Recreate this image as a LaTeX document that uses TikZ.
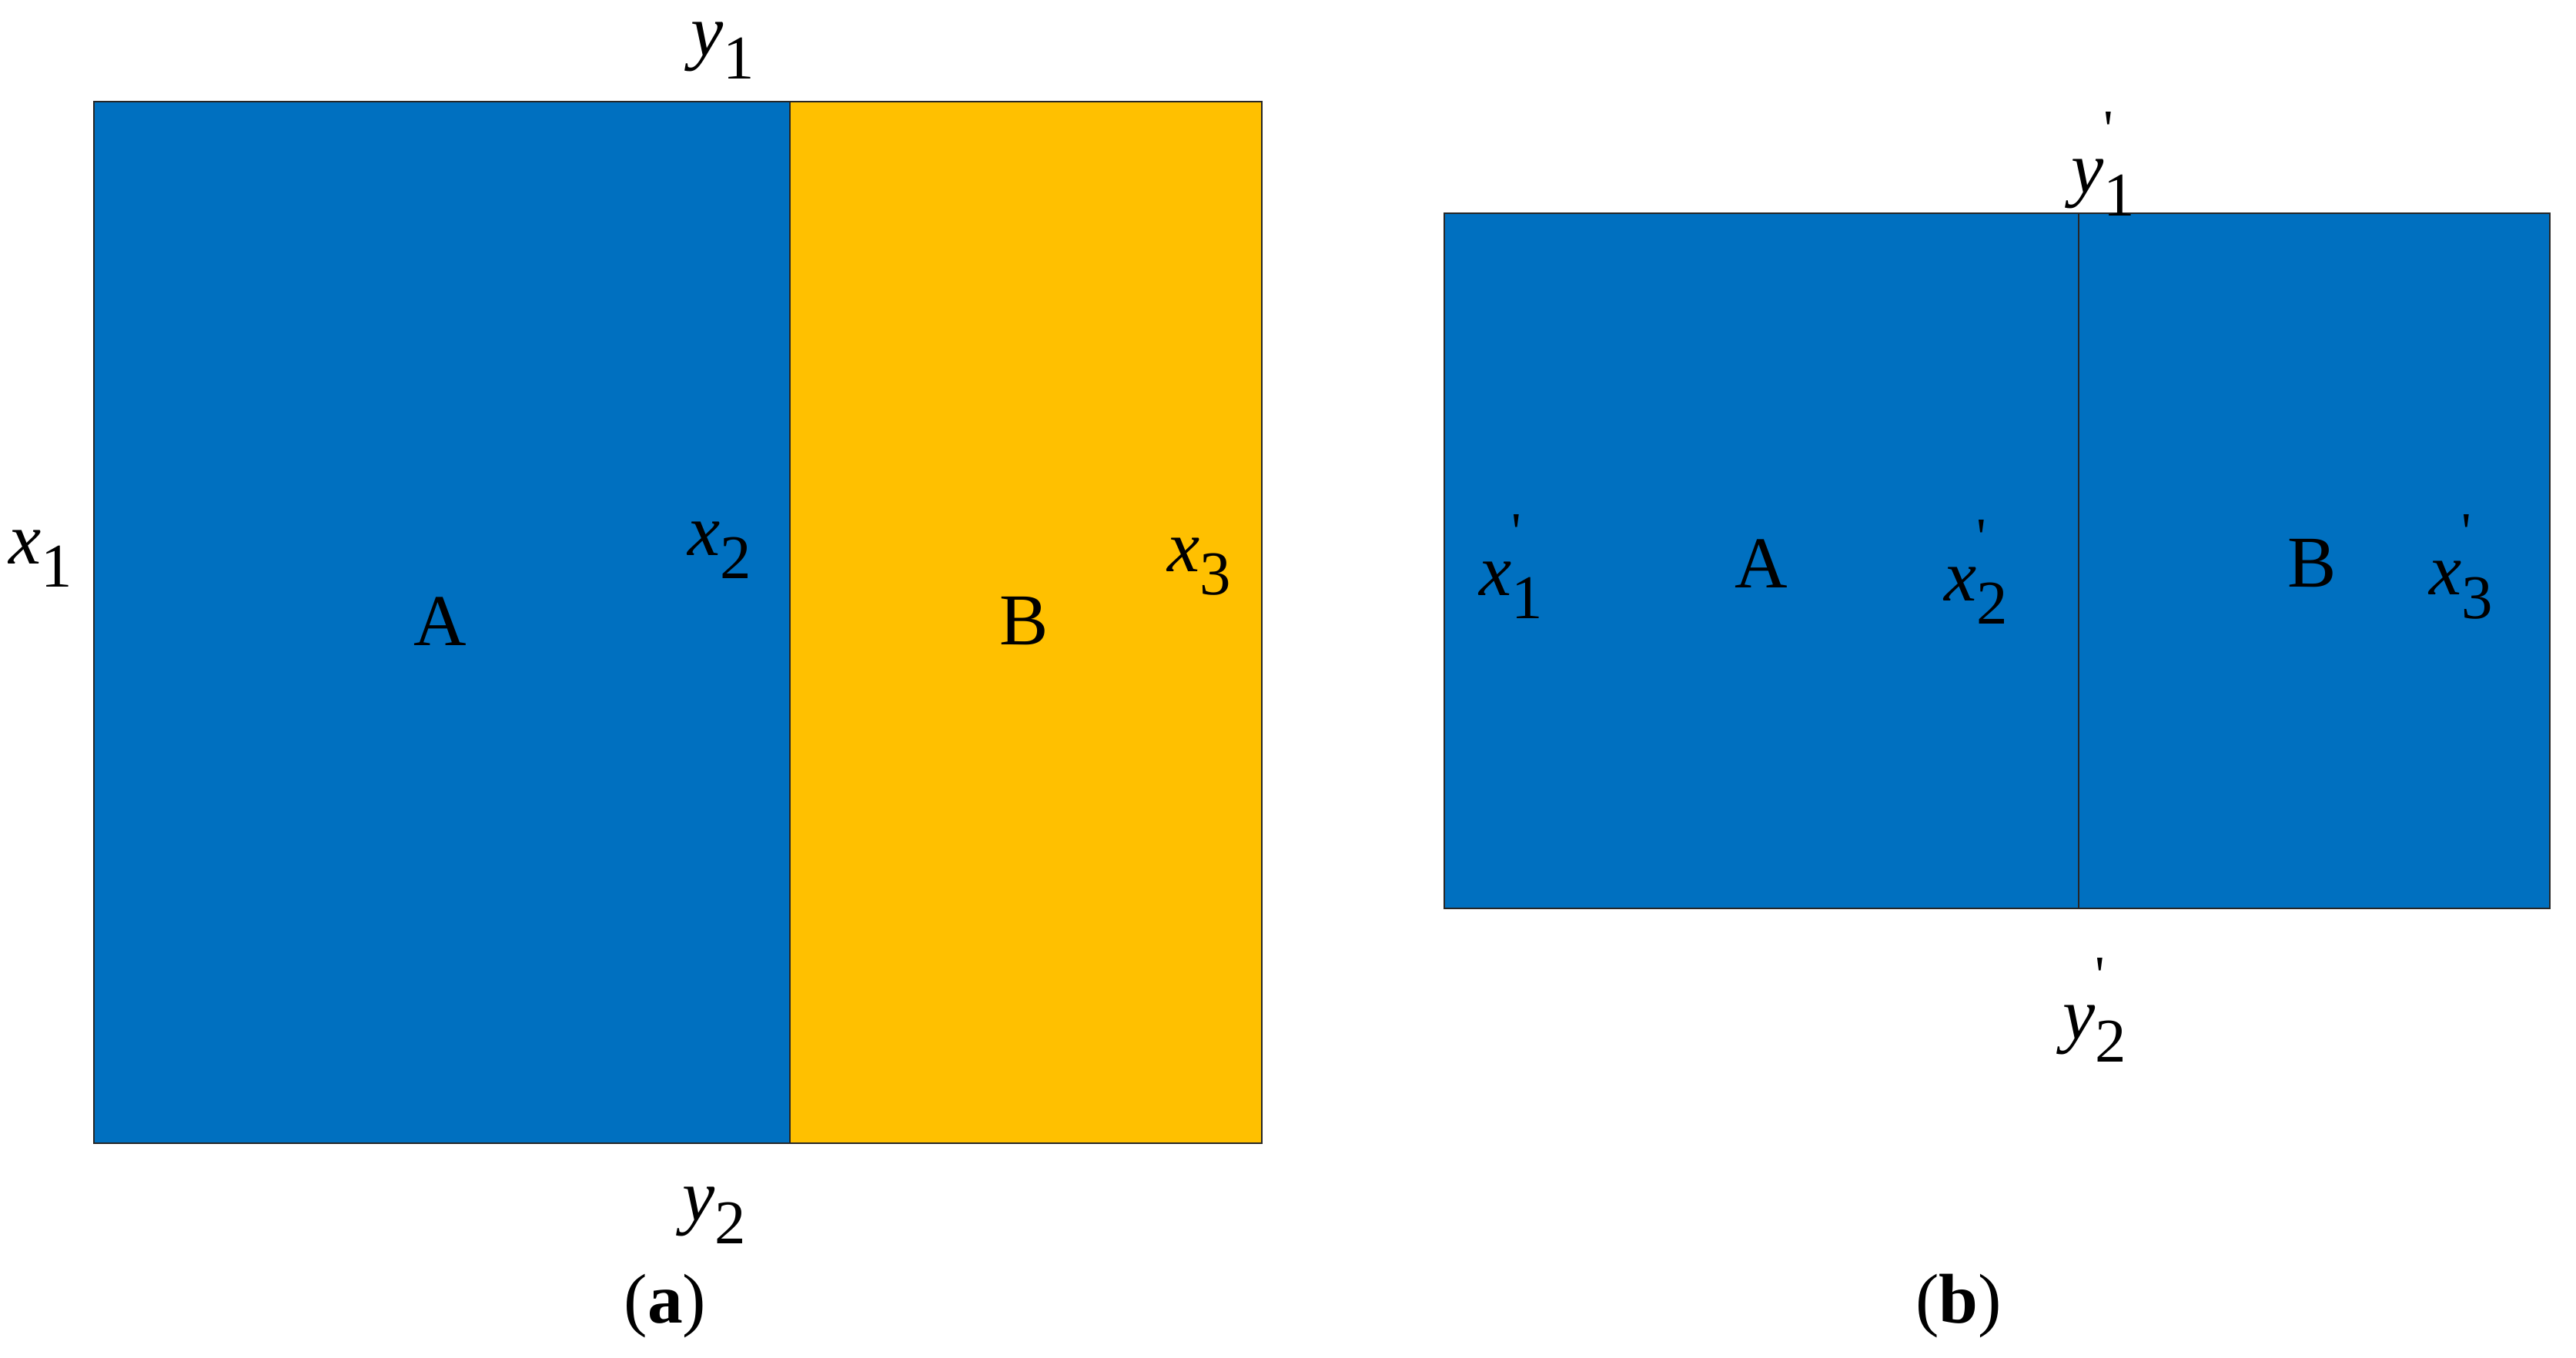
\documentclass[tikz,border=0pt]{standalone}
\usepackage{fontspec}
\setmainfont{Liberation Serif}
\usepackage{xcolor}
\usepackage{tikz}
\usetikzlibrary{positioning}
\definecolor{regionblue}{HTML}{0070C0}
\definecolor{regionyellow}{HTML}{FFC000}
\newcommand{\sublab}[2]{\textit{#1}\raisebox{-0.32em}{\fontsize{23}{23}\selectfont #2}}
\newcommand{\primelab}[2]{\textit{#1}\rlap{\raisebox{0.62em}{\fontsize{20}{20}\selectfont\textquotesingle}}\raisebox{-0.32em}{\fontsize{23}{23}\selectfont #2}}
\tikzset{
	region/.style = {draw=black!85, line width=0.7pt},
	lab/.style = {inner sep=0pt, font=\fontsize{27}{30}\selectfont},
	caption/.style = {inner sep=0pt, font=\fontsize{26}{30}\selectfont},
}
\begin{document}
\begin{tikzpicture}
	\useasboundingbox (0,0) rectangle (33.46,-17.64);
	% (a)
	\filldraw[region, fill=regionblue] (1.22,-1.32) rectangle (10.26,-14.85);
	\filldraw[region, fill=regionyellow] (10.26,-1.32) rectangle (16.39,-14.85);
	\node[lab] (ya1) at (9.39,-0.66) {\sublab{y}{1}};
	\node[lab] (xa1) at (0.53,-7.26) {\sublab{x}{1}};
	\node[lab] (xa2) at (9.35,-7.15) {\sublab{x}{2}};
	\node[lab] (xa3) at (15.58,-7.36) {\sublab{x}{3}};
	\node[lab] (aA) at (5.72,-8.07) {A};
	\node[lab] (aB) at (13.30,-8.07) {B};
	\node[lab] (ya2) at (9.28,-15.79) {\sublab{y}{2}};
	\node[caption] (capa) at (8.64,-16.97) {(\textbf{a})};
	% (b)
	\filldraw[region, fill=regionblue] (18.76,-2.77) rectangle (33.12,-11.80);
	\draw[region] (27.00,-2.77) -- (27.00,-11.80);
	\node[lab] (yb1) at (27.32,-2.13) {\primelab{y}{1}};
	\node[lab] (xb1) at (19.63,-7.36) {\primelab{x}{1}};
	\node[lab] (bA) at (22.88,-7.32) {A};
	\node[lab] (xb2) at (25.67,-7.43) {\primelab{x}{2}};
	\node[lab] (bB) at (30.03,-7.32) {B};
	\node[lab] (xb3) at (31.97,-7.36) {\primelab{x}{3}};
	\node[lab] (yb2) at (27.21,-13.12) {\primelab{y}{2}};
	\node[caption] (capb) at (25.44,-16.97) {(\textbf{b})};
\end{tikzpicture}
\end{document}
